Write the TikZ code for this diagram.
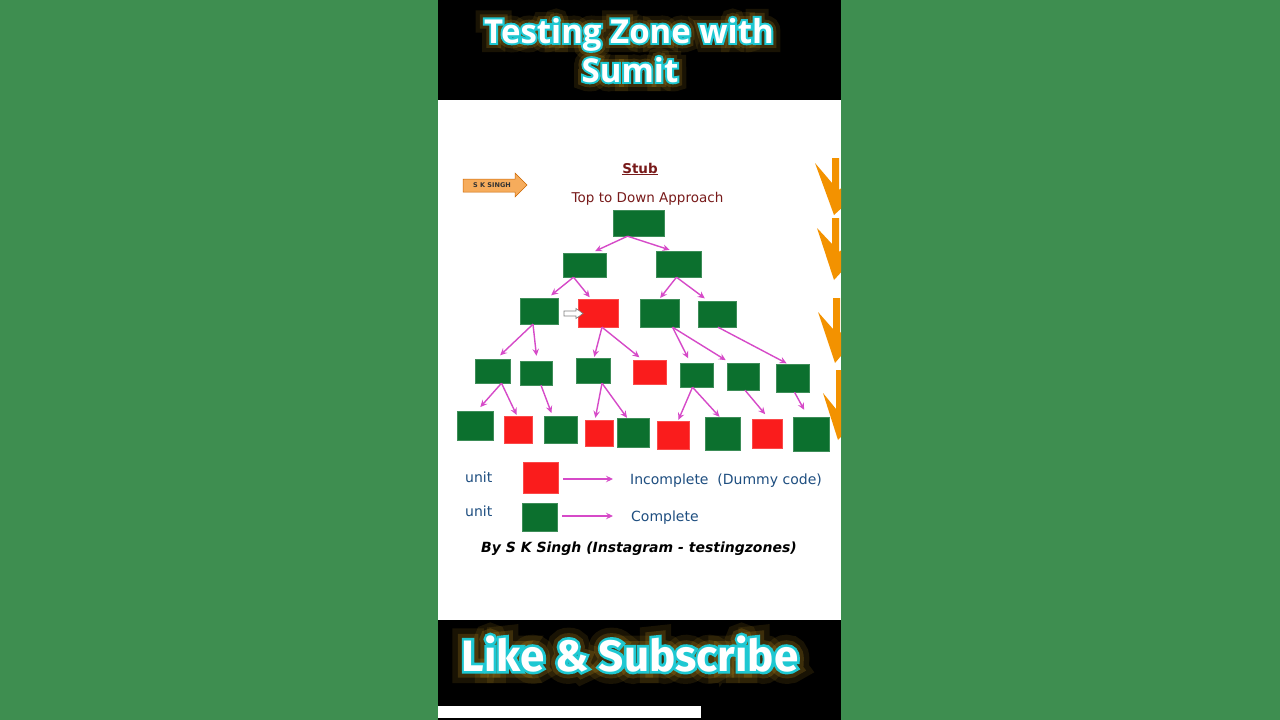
\documentclass[tikz,border=0pt]{standalone}
\usepackage{fontspec}
\setmainfont{DejaVu Sans}
\newfontfamily\titlefont{Open Sans}
\newfontfamily\titleline{Open Sans}[BoldFeatures={FakeBold=12}]
\newfontfamily\titlehalo{Open Sans}[BoldFeatures={FakeBold=30}]
\newfontfamily\titlehaze{Open Sans}[BoldFeatures={FakeBold=55}]
\newfontfamily\likefont{Fira Sans}
\newfontfamily\likeline{Fira Sans}[BoldFeatures={FakeBold=12}]
\newfontfamily\likehalo{Fira Sans}[BoldFeatures={FakeBold=30}]
\newfontfamily\likehaze{Fira Sans}[BoldFeatures={FakeBold=55}]
\usetikzlibrary{arrows.meta}

\definecolor{bggreen}{RGB}{62,142,80}
\definecolor{boxgreen}{RGB}{12,112,46}
\definecolor{boxred}{RGB}{250,28,28}
\definecolor{linkpink}{RGB}{214,74,200}
\definecolor{stubred}{RGB}{120,26,26}
\definecolor{unitblue}{RGB}{30,78,128}
\definecolor{glowcyan}{RGB}{30,200,210}
\definecolor{halo}{RGB}{170,130,30}
\definecolor{skorange}{RGB}{246,172,92}
\definecolor{bigorange}{RGB}{243,146,0}

\begin{document}
\begin{tikzpicture}[x=1pt,y=-1pt]
	\tikzstyle{GreenBox} = [fill=boxgreen, draw=boxgreen!80!white, inner sep=0pt]
	\tikzstyle{RedBox} = [fill=boxred, draw=boxred!80!white, inner sep=0pt]
	\tikzstyle{Link} = [draw=linkpink, line width=1.4pt, -{Stealth[length=7pt,width=6.5pt,inset=2.5pt]}]
	\tikzstyle{Title} = [font=\bfseries\fontsize{33}{38}\selectfont, anchor=base, inner sep=0pt]
	\tikzstyle{Like} = [font=\bfseries\fontsize{44}{50}\selectfont, anchor=base, inner sep=0pt]
	\tikzstyle{Legend} = [font=\fontsize{14}{16}\selectfont, text=unitblue, anchor=base west, inner sep=0pt]
	\useasboundingbox (0,0) rectangle (1280,720);
	% background and panel
	\fill[bggreen] (0,0) rectangle (1280,720);
	\fill[black] (438,0) rectangle (841,100);
	\fill[white] (438,100) rectangle (841,620);
	\fill[black] (438,620) rectangle (841,720);
	\fill[white] (438,706) rectangle (701,718);
	% title and footer with glow
	\node[Title, text=halo, opacity=0.15] (z1) at (629,43) {\titlehaze Testing Zone with};
	\node[Title, text=halo, opacity=0.15] (z2) at (630,82) {\titlehaze Sumit};
	\node[Like, text=halo, opacity=0.15] (zl) at (630,671) {\likehaze Like \& Subscribe};
	\node[Title, text=halo, opacity=0.25] (h1) at (629,43) {\titlehalo Testing Zone with};
	\node[Title, text=halo, opacity=0.25] (h2) at (630,82) {\titlehalo Sumit};
	\node[Like, text=halo, opacity=0.25] (hl) at (630,671) {\likehalo Like \& Subscribe};
	\node[Title, text=glowcyan] (c1) at (629,43) {\titleline Testing Zone with};
	\node[Title, text=glowcyan] (c2) at (630,82) {\titleline Sumit};
	\node[Like, text=glowcyan] (cl) at (630,671) {\likeline Like \& Subscribe};
	\node[Title, text=white] (t1) at (629,43) {\titlefont Testing Zone with};
	\node[Title, text=white] (t2) at (630,82) {\titlefont Sumit};
	\node[Like, text=white] (like) at (630,671) {\likefont Like \& Subscribe};
	% big orange arrows on the right
	\begin{scope}
		\clip (438,100) rectangle (841,620);
		\fill[bigorange] (832,158) -- (839,158) -- (839,190) -- (845,185) -- (845,205) -- (834,215) -- (815,163) -- (832,183) -- cycle;
		\fill[bigorange] (832,218) -- (839,218) -- (839,252) -- (845,247) -- (845,268) -- (834,280) -- (817,228) -- (832,244) -- cycle;
		\fill[bigorange] (833,298) -- (840,298) -- (840,333) -- (846,328) -- (846,350) -- (835,363) -- (818,312) -- (833,329) -- cycle;
		\fill[bigorange] (836,370) -- (843,370) -- (843,410) -- (849,405) -- (849,428) -- (838,440) -- (823,393) -- (836,409) -- cycle;
	\end{scope}
	% S K SINGH arrow
	\filldraw[fill=skorange, draw=orange!80!black, line width=0.5pt] (463,179) -- (515,179) -- (515,173) -- (527,185) -- (515,197) -- (515,192) -- (463,192) -- cycle;
	\node (sk) at (492,185.5) [font=\bfseries\fontsize{6.5}{7}\selectfont, text=black!80, inner sep=0pt] {S K SINGH};
	% headings
	\node (stub) at (640,173) [font=\bfseries\fontsize{13.5}{16}\selectfont, text=stubred, anchor=base, inner sep=0pt] {\underline{Stub}};
	\node (approach) at (647.5,202) [font=\fontsize{13.5}{16}\selectfont, text=stubred, anchor=base, inner sep=0pt] {Top to Down Approach};
	% tree
	\node (1) at (638.5,223) [GreenBox, minimum width=51, minimum height=26] {};
	\node (2) at (584.5,265) [GreenBox, minimum width=43, minimum height=24] {};
	\node (3) at (678.5,264) [GreenBox, minimum width=45, minimum height=26] {};
	\node (4) at (539,311) [GreenBox, minimum width=38, minimum height=26] {};
	\node (5) at (598,313) [RedBox, minimum width=40, minimum height=28] {};
	\node (6) at (659.5,313) [GreenBox, minimum width=39, minimum height=28] {};
	\node (7) at (717,314) [GreenBox, minimum width=38, minimum height=26] {};
	\node (8) at (492.5,371) [GreenBox, minimum width=35, minimum height=24] {};
	\node (9) at (536,373) [GreenBox, minimum width=32, minimum height=24] {};
	\node (10) at (593,370.5) [GreenBox, minimum width=34, minimum height=25] {};
	\node (11) at (649.5,372) [RedBox, minimum width=33, minimum height=24] {};
	\node (12) at (696.5,375) [GreenBox, minimum width=33, minimum height=24] {};
	\node (13) at (743,376.5) [GreenBox, minimum width=32, minimum height=27] {};
	\node (14) at (792.5,378) [GreenBox, minimum width=33, minimum height=28] {};
	\node (15) at (475,425.5) [GreenBox, minimum width=36, minimum height=29] {};
	\node (16) at (518,429.5) [RedBox, minimum width=28, minimum height=27] {};
	\node (17) at (560.5,429.5) [GreenBox, minimum width=33, minimum height=27] {};
	\node (18) at (599,433) [RedBox, minimum width=28, minimum height=26] {};
	\node (19) at (633,432.5) [GreenBox, minimum width=32, minimum height=29] {};
	\node (20) at (673,435) [RedBox, minimum width=32, minimum height=28] {};
	\node (21) at (722.5,433.5) [GreenBox, minimum width=35, minimum height=33] {};
	\node (22) at (767,433.5) [RedBox, minimum width=30, minimum height=29] {};
	\node (23) at (811,434) [GreenBox, minimum width=36, minimum height=34] {};
	\draw [Link, shorten >=4pt] ([xshift=-11]1.south) to ([xshift=7]2.north);
	\draw [Link, shorten >=3pt] ([xshift=-11]1.south) to ([xshift=-6]3.north);
	\draw [Link, shorten >=4pt] ([xshift=-11]2.south) to ([xshift=9]4.north);
	\draw [Link, shorten >=2pt] ([xshift=-11]2.south) to ([xshift=-7]5.north);
	\draw [Link, shorten >=1pt] ([xshift=-2]3.south) to ([xshift=0]6.north);
	\draw [Link, shorten >=4pt] ([xshift=-2]3.south) to ([xshift=-9]7.north);
	\draw [Link, shorten >=5pt] ([xshift=-6]4.south) to ([xshift=4]8.north);
	\draw [Link, shorten >=5pt] ([xshift=-6]4.south) to ([xshift=1]9.north);
	\draw [Link, shorten >=1pt] ([xshift=4]5.south) to ([xshift=1]10.north);
	\draw [Link, shorten >=4pt] ([xshift=4]5.south) to ([xshift=-7]11.north);
	\draw [Link, shorten >=5pt] ([xshift=13]6.south) to ([xshift=-6]12.north);
	\draw [Link, shorten >=5pt] ([xshift=13]6.south) to ([xshift=-13]13.north);
	\draw [Link, shorten >=1pt] ([xshift=1]7.south) to ([xshift=-5]14.north);
	\draw [Link, shorten >=5pt] ([xshift=9]8.south) to ([xshift=2]15.north);
	\draw [Link, shorten >=1pt] ([xshift=9]8.south) to ([xshift=-1]16.north);
	\draw [Link, shorten >=3pt] ([xshift=5]9.south) to ([xshift=-8]17.north);
	\draw [Link, shorten >=2pt] ([xshift=9]10.south) to ([xshift=-4]18.north);
	\draw [Link] ([xshift=9]10.south) to ([xshift=-6]19.north);
	\draw [Link, shorten >=1pt] ([xshift=-4]12.south) to ([xshift=5]20.north);
	\draw [Link] ([xshift=-4]12.south) to ([xshift=-3]21.north);
	\draw [Link, shorten >=6pt] ([xshift=2]13.south) to ([xshift=2]22.north);
	\draw [Link, shorten >=8pt] ([xshift=2]14.south) to ([xshift=-3]23.north);
	% small white arrow into the red unit
	\filldraw[fill=white, draw=gray, line width=0.6pt] (564,311) -- (576,311) -- (576,308.5) -- (583,313.5) -- (576,318.5) -- (576,316) -- (564,316) -- cycle;
	% legend
	\node (u1) at (465,482) [Legend] {unit};
	\node (u2) at (465,516) [Legend] {unit};
	\node (r0) at (540.5,477.5) [RedBox, minimum width=35, minimum height=31] {};
	\node (g0) at (539.5,517) [GreenBox, minimum width=35, minimum height=28] {};
	\node (inc) at (630,484) [Legend] {Incomplete~~(Dummy code)};
	\node (com) at (631,521) [Legend] {Complete};
	\draw [Link, line width=1.1pt, shorten <=5pt, shorten >=17pt] (r0.east |- 0,479) to (inc.west |- 0,479);
	\draw [Link, line width=1.1pt, shorten <=5pt, shorten >=18pt] (g0.east |- 0,516) to (com.west |- 0,516);
	% credit
	\node (by) at (639,552) [font=\bfseries\itshape\fontsize{14}{16}\selectfont, anchor=base, inner sep=0pt] {By S K Singh (Instagram - testingzones)};
\end{tikzpicture}
\end{document}
